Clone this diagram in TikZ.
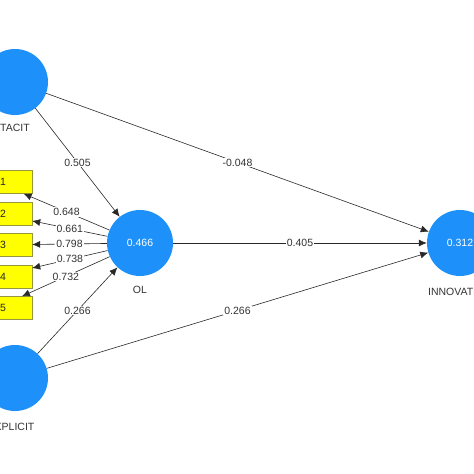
\documentclass[tikz,border=0pt]{standalone}
\usepackage{fontspec}
\setmainfont{Liberation Sans}
\usepackage{tikz}
\usetikzlibrary{arrows.meta, positioning}
\usepackage{xcolor}
\definecolor{LVBlue}{RGB}{30,144,250}
\definecolor{IndYellow}{RGB}{255,255,0}
\definecolor{IndBorder}{RGB}{150,150,60}
\definecolor{LineGray}{RGB}{40,40,40}

\begin{document}
\begin{tikzpicture}[
  x=1pt, y=-1pt,
  font=\fontsize{10.5}{12}\selectfont,
  lv/.style={circle, fill=LVBlue, minimum size=66pt, inner sep=0pt, text=white},
  ind/.style={draw=IndBorder, fill=IndYellow, minimum width=72pt, minimum height=23pt, inner sep=0pt, text=black!85},
  lbl/.style={text=black!80, inner sep=1pt},
  val/.style={fill=white, text=black!80, inner sep=1pt},
  arr/.style={-{Latex[length=8pt, width=7pt]}, draw=LineGray, line width=0.6pt}
]
  \useasboundingbox (0,0) rectangle (474,474);
  \clip (0,0) rectangle (474,474);

  % Latent variables
  \node[lv] (tacit) at (15, 82) {};
  \node[lv] (expl) at (15, 378) {};
  \node[lv] (ol) at (140, 243) {0.466};
  \node[lv] (innov) at (460, 243) {0.312};

  \node[lbl] (tacitlbl) at (15, 128) {TACIT};
  \node[lbl] (expllbl) at (11, 427) {EXPLICIT};
  \node[lbl] (ollbl) at (140, 290) {OL};
  \node[lbl] (innovlbl) at (460, 292) {INNOVATION};

  % Indicators of OL
  \node[ind] (ind1) at (-4, 182) {\hphantom{OL}1};
  \node[ind] (ind2) at (-4, 213.5) {\hphantom{OL}2};
  \node[ind] (ind3) at (-4, 245) {\hphantom{OL}3};
  \node[ind] (ind4) at (-4, 276.5) {\hphantom{OL}4};
  \node[ind] (ind5) at (-4, 308) {\hphantom{OL}5};

  % Outer loadings
  \draw[arr] (ol) -- node[val] {0.648} (ind1);
  \draw[arr] (ol) -- node[val] {0.661} (ind2);
  \draw[arr] (ol) -- node[val] {0.798} (ind3);
  \draw[arr] (ol) -- node[val] {0.738} (ind4);
  \draw[arr] (ol) -- node[val] {0.732} (ind5);

  % Path coefficients
  \draw[arr] (tacit) -- node[val] {0.505} (ol);
  \draw[arr] (tacit) -- node[val] {-0.048} (innov);
  \draw[arr] (ol) -- node[val] {0.405} (innov);
  \draw[arr] (expl) -- node[val] {0.266} (ol);
  \draw[arr] (expl) -- node[val] {0.266} (innov);
\end{tikzpicture}
\end{document}
